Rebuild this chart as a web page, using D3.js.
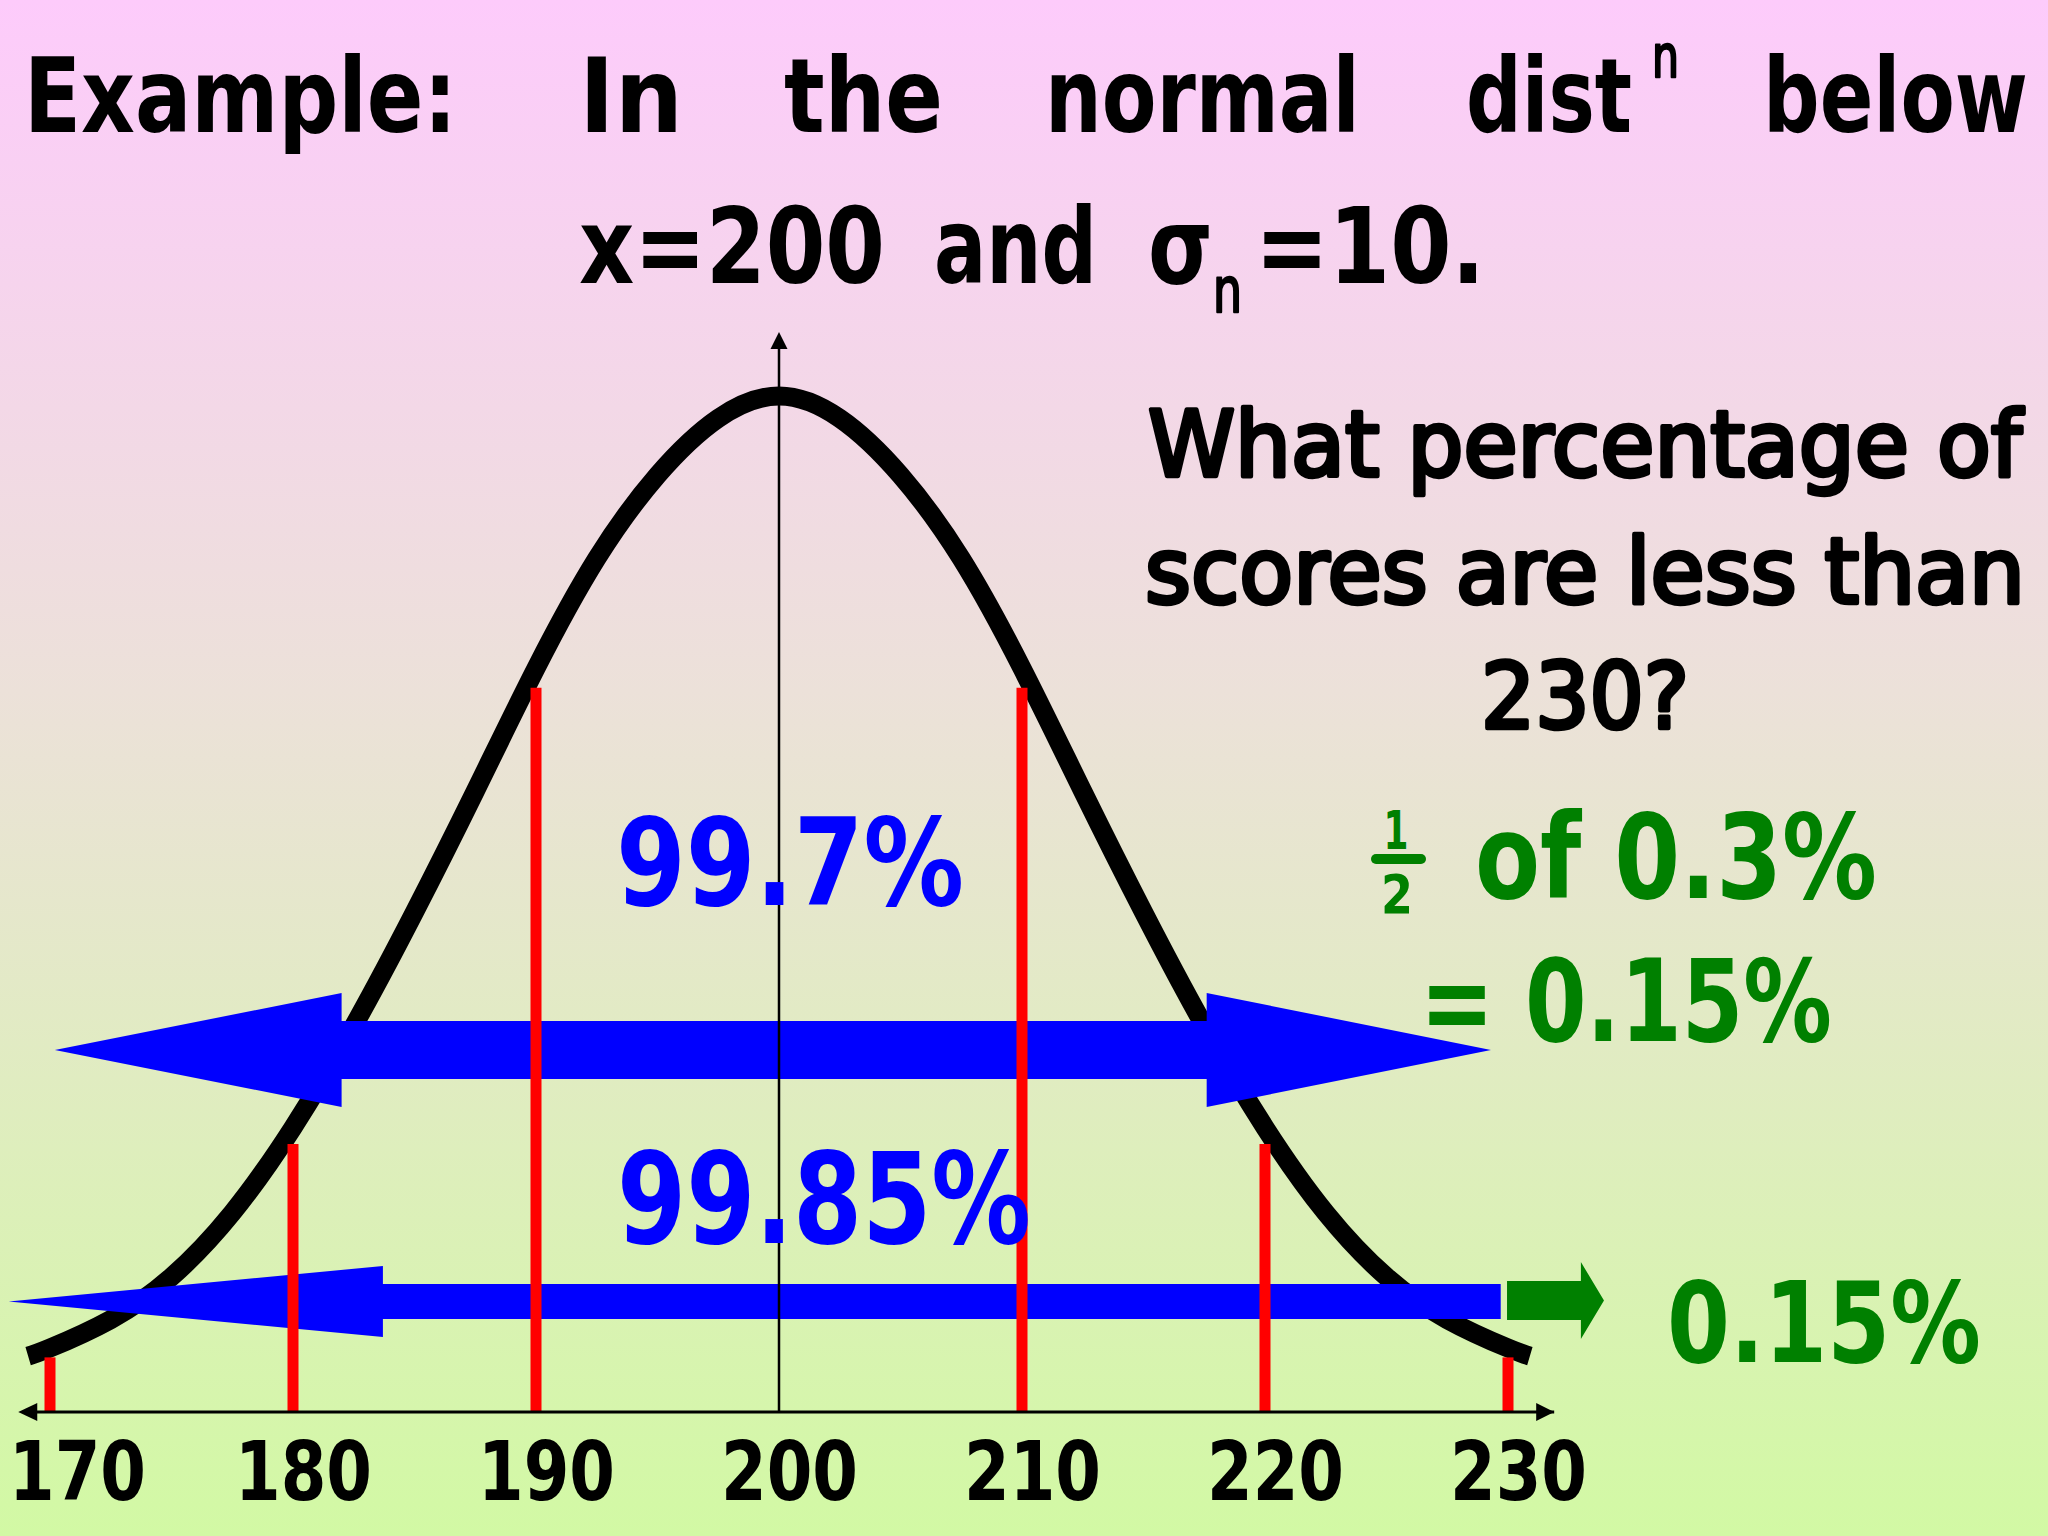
<!DOCTYPE html>
<html>
<head>
<meta charset="utf-8">
<script src="https://cdn.jsdelivr.net/npm/d3@7"></script>
<style>
  html, body { margin: 0; padding: 0; overflow: hidden; background: #ece2d8; }
  svg { display: block; }
</style>
</head>
<body>
<svg id="chart" width="2048" height="1536"></svg>
<script>
// ---------------- DATA ----------------
const curveX = [169.1, 170, 172.5, 175, 177.5, 180, 182.5, 185, 187.5, 190, 192.5, 195, 197.5,
                200, 202.5, 205, 207.5, 210, 212.5, 215, 217.5, 220, 222.5, 225, 227.5, 230, 230.9];
const curveY = [0.055, 0.063, 0.091, 0.133, 0.196, 0.280, 0.380, 0.492, 0.611, 0.732, 0.840, 0.922, 0.978,
                1.000, 0.978, 0.922, 0.840, 0.732, 0.611, 0.492, 0.380, 0.280, 0.196, 0.133, 0.091, 0.063, 0.055];
const tickValues = [170, 180, 190, 200, 210, 220, 230];
const boundaryValues = [170, 180, 190, 210, 220, 230];
const mean = 200;
const axisExtent = [168.9, 231.9];
// range arrows, in score units
const upperArrow = { tipL: 170.2, baseL: 182.0, baseR: 217.6, tipR: 229.3 };
const lowerArrow = { tipL: 168.3, baseL: 183.7, endR: 229.7 };
const tailArrow  = { start: 229.96, base: 233.0, tip: 233.95 };
const titleLine1 = ["Example:", "In", "the", "normal", "dist", "below"];
const titleLine2 = ["x=200", "and", "\u03C3", "=10."];
const questionLines = ["What percentage of", "scores are less than", "230?"];
const percentLabels = ["99.7%", "99.85%"];
const fractionParts = ["1", "2"];
const answerLines = ["of 0.3%", "= 0.15%"];
const tailLabel = "0.15%";

// ---------------- SETUP ----------------
const svg = d3.select("#chart");
const W = 2048, H = 1536;
const FONT = "'DejaVu Sans', 'Noto Sans', sans-serif";

const defs = svg.append("defs");
const grad = defs.append("linearGradient").attr("id", "bg").attr("x1", 0).attr("y1", 0).attr("x2", 0).attr("y2", 1);
grad.append("stop").attr("offset", "0%").attr("stop-color", "#fdcbfb");
grad.append("stop").attr("offset", "45%").attr("stop-color", "#ece1d9");
grad.append("stop").attr("offset", "100%").attr("stop-color", "#d2f9a4");
svg.append("rect").attr("width", W).attr("height", H).attr("fill", "url(#bg)");

const x = d3.scaleLinear().domain([170, 230]).range([50, 1508]);
const y = d3.scaleLinear().domain([0, 1]).range([1412, 396]);
const baseY = y(0);

// text helper: natural glyphs, squeezed horizontally by a transform to a target width
function txt(g, s, px, py, size, o = {}) {
  const t = g.append("text")
    .attr("x", 0).attr("y", 0)
    .attr("font-family", o.family || FONT)
    .attr("font-size", size)
    .attr("font-weight", o.weight || "bold")
    .attr("fill", o.color || "#000")
    .attr("text-anchor", o.anchor || "start")
    .text(s);
  let sx = 1;
  if (o.w) sx = o.w / t.node().getComputedTextLength();
  t.attr("transform", `translate(${px},${py}) scale(${sx},1)`);
  if (o.stroke) t.attr("stroke", o.color || "#000").attr("stroke-width", o.stroke)
                 .attr("stroke-linejoin", "round").attr("paint-order", "stroke");
  return t;
}

// ---------------- CURVE ----------------
const pts = curveX.map((d, i) => [d, curveY[i]]);
const line = d3.line().x(d => x(d[0])).y(d => y(d[1])).curve(d3.curveNatural);
svg.append("path").attr("d", line(pts)).attr("fill", "none")
  .attr("stroke", "#000").attr("stroke-width", 19).attr("stroke-linecap", "butt");

// ---------------- ARROWS ----------------
const blue = "#0000ff", green = "#008000";
function poly(points, color) {
  svg.append("polygon").attr("points", points.map(p => p.join(",")).join(" ")).attr("fill", color);
}
// upper double arrow
{
  const yc = 1050, sh = 29, hh = 57, a = upperArrow;
  poly([[x(a.tipL), yc], [x(a.baseL), yc - hh], [x(a.baseL), yc - sh], [x(a.baseR), yc - sh],
        [x(a.baseR), yc - hh], [x(a.tipR), yc], [x(a.baseR), yc + hh], [x(a.baseR), yc + sh],
        [x(a.baseL), yc + sh], [x(a.baseL), yc + hh]], blue);
}
// lower left arrow
{
  const yc = 1301.5, sh = 17.5, hh = 35.5, a = lowerArrow;
  poly([[x(a.tipL), yc], [x(a.baseL), yc - hh], [x(a.baseL), yc - sh], [x(a.endR), yc - sh],
        [x(a.endR), yc + sh], [x(a.baseL), yc + sh], [x(a.baseL), yc + hh]], blue);
}
// green tail arrow
{
  const yc = 1300.5, sh = 19.5, hh = 38.5, a = tailArrow;
  poly([[x(a.start), yc - sh], [x(a.base), yc - sh], [x(a.base), yc - hh], [x(a.tip), yc],
        [x(a.base), yc + hh], [x(a.base), yc + sh], [x(a.start), yc + sh]], green);
}

// ---------------- RED BOUNDARY LINES ----------------
function valueAt(v) { return curveY[curveX.indexOf(v)]; }
function slopeAt(v) {
  const i = curveX.indexOf(v);
  const a = pts[Math.max(0, i - 1)], b = pts[Math.min(pts.length - 1, i + 1)];
  return (y(b[1]) - y(a[1])) / (x(b[0]) - x(a[0]));
}
svg.append("g").selectAll("line").data(boundaryValues).join("line")
  .attr("x1", d => x(d)).attr("x2", d => x(d))
  .attr("y1", baseY)
  .attr("y2", d => y(valueAt(d)) + 9.5 * Math.sqrt(1 + slopeAt(d) ** 2) - 1)
  .attr("stroke", "#ff0000").attr("stroke-width", 11);

// ---------------- X AXIS ----------------
svg.append("line").attr("x1", x(axisExtent[0])).attr("x2", x(axisExtent[1]))
  .attr("y1", baseY).attr("y2", baseY).attr("stroke", "#000").attr("stroke-width", 3);
poly([[x(axisExtent[0]) - 5, baseY], [x(axisExtent[0]) + 14, baseY - 9], [x(axisExtent[0]) + 14, baseY + 9]], "#000");
poly([[x(axisExtent[1]), baseY], [x(axisExtent[1]) - 18, baseY - 9], [x(axisExtent[1]) - 18, baseY + 9]], "#000");

const axis = d3.axisBottom(x).tickValues(tickValues).tickSize(0).tickPadding(30).tickFormat(d3.format("d"));
const ag = svg.append("g").attr("transform", `translate(0,${baseY})`).call(axis);
ag.select(".domain").remove();
ag.selectAll("text")
  .attr("font-family", FONT).attr("font-size", 82).attr("font-weight", "bold").attr("fill", "#000")
  .each(function (d, i) {
    const t = d3.select(this);
    const sx = 137 / this.getComputedTextLength();
    const dx = i === 0 ? 27 : 10;
    const ty = +t.attr("y");
    t.attr("y", null).attr("dy", null)
     .attr("transform", `translate(${dx},${ty + 58}) scale(${sx},1)`);
  });

// ---------------- CENTER (MEAN) LINE ----------------
svg.append("line").attr("x1", x(mean)).attr("x2", x(mean)).attr("y1", 347).attr("y2", baseY)
  .attr("stroke", "#000").attr("stroke-width", 2.5);
poly([[x(mean), 332], [x(mean) - 8.5, 349], [x(mean) + 8.5, 349]], "#000");

// ---------------- TEXT ----------------
const tg = svg.append("g");
// title line 1
const l1 = [[24, 433], [579, 104], [784, 159], [1045, 315], [1466, 166], [1763, 265]];
titleLine1.forEach((s, i) => txt(tg, s, l1[i][0], 132, 104, { w: l1[i][1] }));
txt(tg, "n", 1652, 77, 58, { w: 27, weight: "normal", stroke: 2.5 });
// title line 2
const l2 = [[579, 306], [934, 163], [1148, 65], [1255, 230]];
titleLine2.forEach((s, i) => txt(tg, s, l2[i][0], 283, 106, { w: l2[i][1] }));
txt(tg, "n", 1213, 312, 62, { w: 29, weight: "normal", stroke: 2.5 });

// question
const qx = [[1148, 874, 476], [1145, 880, 603], [1481, 208, 728]];
questionLines.forEach((s, i) => txt(tg, s, qx[i][0], qx[i][2], 90, { w: qx[i][1], weight: "normal", stroke: 4.5 }));

// blue percentages
txt(tg, percentLabels[0], 616, 905, 122, { w: 348, color: blue });
txt(tg, percentLabels[1], 617, 1243, 127, { w: 414, color: blue });

// green answer: stacked fraction one-half
txt(tg, fractionParts[0], 1396, 849, 54, { anchor: "middle", color: green, w: 25 });
tg.append("line").attr("x1", 1376).attr("x2", 1421).attr("y1", 859).attr("y2", 859)
  .attr("stroke", green).attr("stroke-width", 10).attr("stroke-linecap", "round");
txt(tg, fractionParts[1], 1397, 913, 54, { anchor: "middle", color: green, w: 32 });
txt(tg, answerLines[0], 1475, 898, 118, { w: 402, color: green });
txt(tg, answerLines[1], 1420, 1041, 114, { w: 412, color: green });
txt(tg, tailLabel, 1667, 1362, 112, { w: 314, color: green });
</script>
</body>
</html>
